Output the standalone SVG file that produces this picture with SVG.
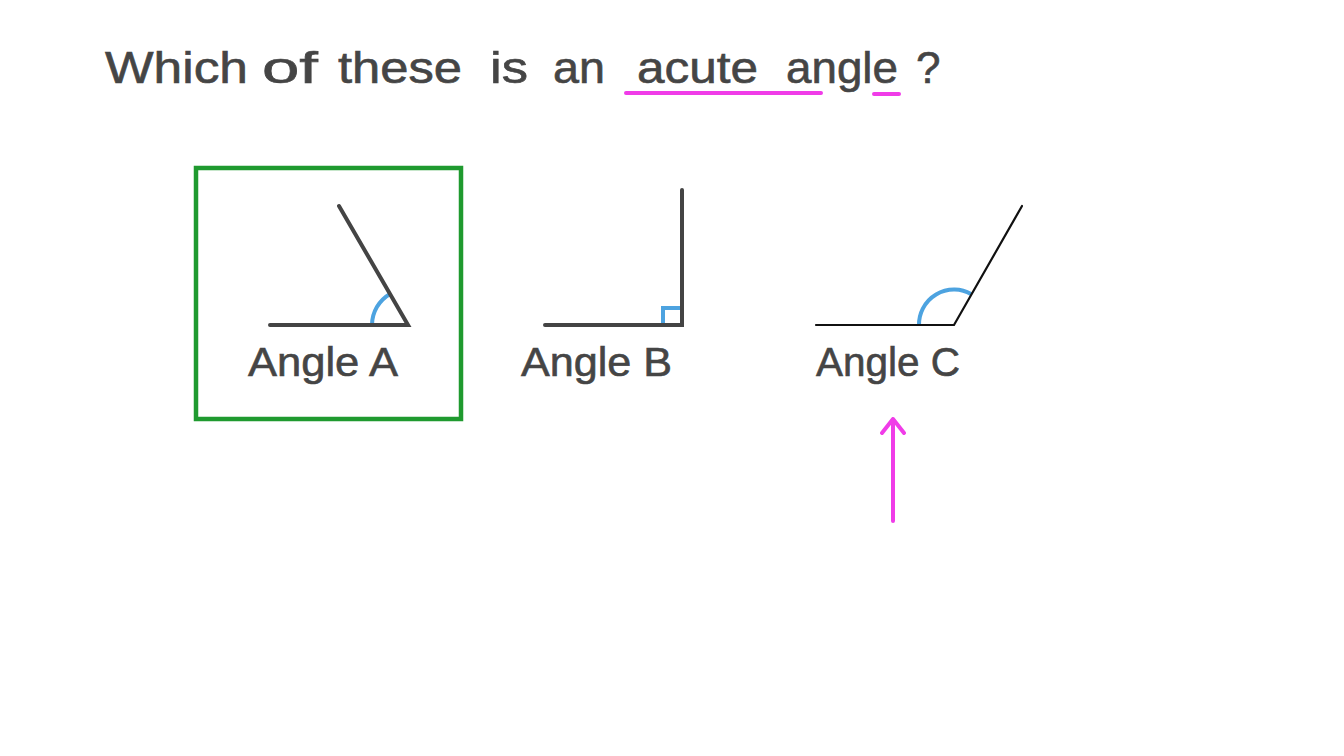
<svg xmlns="http://www.w3.org/2000/svg" width="1344" height="756" viewBox="0 0 1344 756">
<style>
.t{font-family:"Liberation Sans",Arial,sans-serif;font-size:44px;fill:#454545;stroke:#454545;stroke-width:0.6}
.l{font-family:"Liberation Sans",Arial,sans-serif;font-size:40px;fill:#454545;stroke:#454545;stroke-width:0.6}
.ln{stroke:#444;stroke-width:4;stroke-linecap:round;fill:none}
.thin{stroke:#111;stroke-width:2.2;stroke-linecap:round;fill:none}
.mk{stroke:#4da3e0;stroke-width:4;fill:none}
.pk{stroke:#f03ce8;stroke-width:4;stroke-linecap:round;stroke-linejoin:round;fill:none}
</style>
<rect width="1344" height="756" fill="#ffffff"/>
<g id="title">
<text class="t" x="105" y="83" textLength="143" lengthAdjust="spacingAndGlyphs">Which</text>
<text class="t" x="262" y="83" textLength="56" lengthAdjust="spacingAndGlyphs">of</text>
<text class="t" x="338" y="83" textLength="124" lengthAdjust="spacingAndGlyphs">these</text>
<text class="t" x="490" y="83" textLength="38" lengthAdjust="spacingAndGlyphs">is</text>
<text class="t" x="553" y="83" textLength="52" lengthAdjust="spacingAndGlyphs">an</text>
<text class="t" x="637" y="83" textLength="121" lengthAdjust="spacingAndGlyphs">acute</text>
<text class="t" x="786" y="83" textLength="112" lengthAdjust="spacingAndGlyphs">angle</text>
<text class="t" x="916" y="83">?</text>
<path class="pk" d="M626 93 L821 93 M874 94 L899 94"/>
</g>
<g id="angleA">
<rect x="196" y="168" width="265" height="251" fill="none" stroke="#1f9a2f" stroke-width="4.5"/>
<path class="mk" d="M372 325 A36 36 0 0 1 390 294"/>
<path class="ln" d="M270 325 L408 325 L339 206"/>
<text class="l" x="248" y="376" textLength="150" lengthAdjust="spacingAndGlyphs">Angle A</text>
</g>
<g id="angleB">
<path class="mk" d="M663 325 L663 308 L682 308"/>
<path class="ln" d="M545 325 L682 325 L682 190"/>
<text class="l" x="521" y="376" textLength="151" lengthAdjust="spacingAndGlyphs">Angle B</text>
</g>
<g id="angleC">
<path class="mk" d="M919 325 A35 35 0 0 1 971 294"/>
<path class="thin" d="M816 325 L954 325 L1022 206"/>
<text class="l" x="816" y="376" textLength="144" lengthAdjust="spacingAndGlyphs">Angle C</text>
</g>
<g id="connectors">
<path class="pk" d="M893 521 L893 419 M882 433 L893 419 L904 433"/>
</g>
</svg>
